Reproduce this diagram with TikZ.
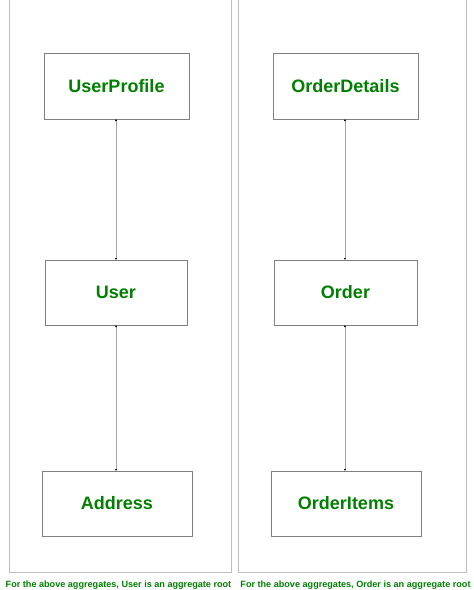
\documentclass[tikz,border=0pt]{standalone}
\usepackage{fontspec}
\setmainfont{Liberation Sans}
\usetikzlibrary{arrows.meta}
\definecolor{txtgreen}{RGB}{0,128,0}
\definecolor{panelgray}{RGB}{190,190,190}
\definecolor{boxgray}{RGB}{128,128,128}
\tikzset{
  entity/.style={draw=boxgray, line width=0.9pt, inner sep=0pt, font=\fontsize{18}{20}\selectfont\bfseries, text=txtgreen},
  panel/.style={draw=panelgray, line width=0.9pt},
  link/.style={draw=gray!70, line width=0.6pt, {Latex[length=2pt,width=2pt,black]}-{Latex[length=2pt,width=2pt,black]}},
  caption/.style={font=\fontsize{9.1}{11}\selectfont\bfseries, text=txtgreen, inner sep=0pt}
}
\begin{document}
\begin{tikzpicture}[x=1pt,y=-1pt]
\useasboundingbox (0,0) rectangle (474,590);
\fill[white] (0,0) rectangle (474,590);
% panels
\draw[panel] (9,0) -- (9,572) -- (231,572) -- (231,0);
\draw[panel] (238,0) -- (238,572) -- (466,572) -- (466,0);
% left boxes
\node[entity, minimum width=145pt, minimum height=66pt] (up) at (116.5,86) {UserProfile};
\node[entity, minimum width=142pt, minimum height=65pt] (user) at (116,292.5) {User};
\node[entity, minimum width=150pt, minimum height=65pt] (addr) at (117,503.5) {Address};
% right boxes
\node[entity, minimum width=145pt, minimum height=66pt] (od) at (345.5,86) {OrderDetails};
\node[entity, minimum width=143pt, minimum height=65pt] (order) at (345.5,292.5) {Order};
\node[entity, minimum width=150pt, minimum height=65pt] (oi) at (346,503.5) {OrderItems};
% connectors
\coordinate (a1) at (116,119);
\coordinate (a2) at (116,260);
\coordinate (a3) at (116,325);
\coordinate (a4) at (116,471);
\coordinate (b1) at (345,119);
\coordinate (b2) at (345,260);
\coordinate (b3) at (345,325);
\coordinate (b4) at (345,471);
\draw[link] (a1) -- (a2);
\draw[link] (a3) -- (a4);
\draw[link] (b1) -- (b2);
\draw[link] (b3) -- (b4);
% captions
\node[caption] (c1) at (118.5,585) {For the above aggregates, User is an aggregate root};
\node[caption] (c2) at (355.5,585) {For the above aggregates, Order is an aggregate root};
\end{tikzpicture}
\end{document}
